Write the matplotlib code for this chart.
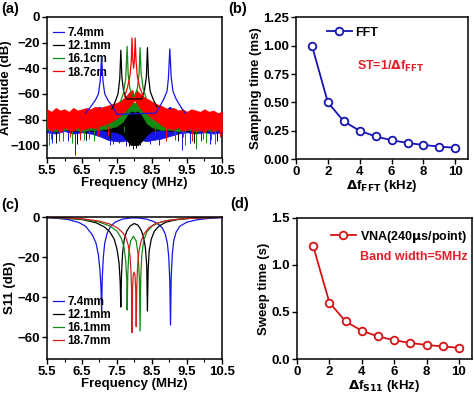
import numpy as np
import matplotlib
matplotlib.use('Agg')
import matplotlib.pyplot as plt

plt.rcParams['font.family'] = ['Liberation Sans', 'DejaVu Sans']
plt.rcParams['font.weight'] = 'bold'
plt.rcParams['axes.labelweight'] = 'bold'
plt.rcParams['mathtext.default'] = 'bf'

labels_a = ['7.4mm', '12.1mm', '16.1cm', '18.7cm']
labels_c = ['7.4mm', '12.1mm', '16.1mm', '18.7mm']
colors = ['#1515e6', '#000000', '#138a13', '#ff0000']

# ---- (a) FFT spectra: noise envelopes
band_f = [5.5, 5.75, 6.0, 6.25, 6.5, 6.75, 7.0, 7.25, 7.5, 7.65, 7.8, 7.9, 8.0,
          8.1, 8.2, 8.35, 8.5, 8.75, 9.0, 9.25, 9.5, 9.75, 10.0, 10.25, 10.5]
blue_up = [-75, -76, -75, -76, -75, -73, -70, -76, -78, -79, -80, -80, -80,
           -80, -80, -79, -78, -76, -70, -74, -76, -75, -76, -75, -76]
blue_lo = [-90, -91, -89, -91, -90, -91, -93, -96, -97, -97, -96, -98, -97,
           -97, -96, -97, -96, -95, -93, -91, -90, -91, -90, -91, -90]
black_up = [-75, -76, -75, -76, -75, -75, -75, -74, -70, -66, -71, -72, -72,
            -72, -71, -66, -69, -74, -75, -76, -75, -76, -75, -76, -75]
black_lo = [-88, -89, -88, -89, -88, -89, -88, -89, -90, -92, -97, -100, -100,
            -100, -97, -92, -89, -88, -89, -88, -89, -88, -89, -88, -89]
green_up = [-75, -75, -76, -75, -76, -75, -75, -74, -71, -67, -63, -66, -67,
            -66, -63, -68, -72, -74, -75, -75, -76, -75, -76, -75, -75]
green_lo = [-88, -89, -88, -88, -89, -88, -88, -87, -85, -82, -76, -73, -74,
            -73, -76, -83, -86, -88, -88, -89, -88, -89, -88, -89, -88]
bands_a = [(blue_up, blue_lo), (black_up, black_lo), (green_up, green_lo)]

red_f = [5.5, 5.625, 5.75, 5.875, 6.0, 6.125, 6.25, 6.375, 6.5, 6.625, 6.75, 6.875,
         7.0, 7.125, 7.25, 7.375, 7.5, 7.625, 7.75, 7.875, 7.94, 8.0, 8.06, 8.125,
         8.25, 8.375, 8.5, 8.625, 8.75, 8.875, 9.0, 9.125, 9.25, 9.375, 9.5, 9.625,
         9.75, 9.875, 10.0, 10.125, 10.25, 10.375, 10.5]
red_up = [-72, -74, -71, -73, -72, -74, -71, -73, -72, -71, -72, -70, -71, -70,
          -69, -68, -67, -65, -62, -58, -57, -62, -57, -59, -62, -64, -66, -68,
          -69, -71, -72, -71, -73, -72, -74, -72, -73, -74, -72, -74, -73, -75, -74]
red_lo = [-86, -89, -87, -90, -86, -88, -89, -86, -88, -87, -86, -87, -85, -84,
          -83, -81, -79, -76, -73, -69, -67, -65, -67, -70, -74, -76, -79, -81,
          -84, -86, -87, -88, -86, -89, -88, -87, -89, -88, -90, -87, -89, -88, -90]

# downward noise spikes (freq, dB), blue / black / green / red
spike_f = [[5.65, 6.1, 6.3, 6.6, 7.3, 7.4, 7.55, 7.75, 8.3, 8.45, 8.6, 8.7, 9.35, 9.6,
            9.9, 10.15],
           [5.75, 6.35, 6.6, 7.3, 7.85, 7.95, 8.05, 8.15, 8.25, 9.25, 9.7, 10.35],
           [5.55, 5.95, 6.2, 6.55, 6.85, 7.7, 9.45, 9.75, 10.05, 10.3],
           [5.6, 5.85, 6.15, 6.45, 6.7, 6.95, 7.25, 8.6, 8.9, 9.15, 9.4, 9.65, 9.95,
            10.2, 10.45]]
spike_db = [[-98, -97, -108, -96, -100, -99, -98, -101, -97, -99, -96, -100, -104, -98,
             -97, -99],
            [-98, -99, -96, -95, -101, -103, -102, -100, -96, -97, -98, -97],
            [-100, -97, -98, -96, -97, -90, -100, -103, -98, -99],
            [-95, -97, -94, -96, -95, -93, -92, -90, -97, -96, -94, -97, -95, -96, -94]]

# resonance peaks (freq, dB)
peak_f = [[6.6, 6.75, 6.88, 6.97, 7.02, 7.06, 7.1, 7.15, 7.24, 7.38, 7.5,
           8.6, 8.72, 8.84, 8.93, 8.97, 9.01, 9.05, 9.1, 9.19, 9.32, 9.45],
          [7.35, 7.45, 7.53, 7.58, 7.61, 7.64, 7.69, 7.77,
           8.2, 8.28, 8.34, 8.37, 8.4, 8.45, 8.53, 8.64],
          [7.6, 7.68, 7.75, 7.79, 7.82, 7.87, 7.95,
           8.0, 8.08, 8.13, 8.16, 8.19, 8.25, 8.33],
          [7.72, 7.8, 7.87, 7.91, 7.93, 7.95, 7.975, 8.0, 8.02, 8.045, 8.08, 8.15, 8.25]]
peak_db = [[-75, -70, -65, -60, -50, -31, -50, -60, -65, -70, -76,
            -75, -70, -64, -58, -48, -25, -47, -58, -64, -70, -75],
           [-72, -66, -60, -48, -26, -47, -58, -64,
            -64, -58, -47, -24, -46, -58, -64, -70],
           [-66, -60, -48, -23, -45, -56, -62,
            -62, -56, -45, -24, -44, -56, -63],
           [-62, -55, -46, -34, -16.5, -33, -40, -33, -16.5, -34, -46, -55, -62]]

# ---- (b) FFT sampling time
df_fft = [1, 2, 3, 4, 5, 6, 7, 8, 9, 10]
st_fft = [1.0, 0.5, 0.333, 0.25, 0.2, 0.167, 0.143, 0.125, 0.111, 0.1]

# ---- (c) S11 curves (freq, dB)
s11_f = [[5.5, 5.8, 6.1, 6.4, 6.6, 6.8, 6.9, 6.97, 7.01, 7.04, 7.06, 7.08, 7.11, 7.15,
          7.22, 7.32, 7.45, 7.65, 7.9, 8.1, 8.35, 8.55, 8.7, 8.8, 8.88, 8.94, 8.98,
          9.01, 9.03, 9.05, 9.08, 9.12, 9.19, 9.3, 9.5, 9.8, 10.1, 10.5],
         [5.5, 6.0, 6.5, 6.9, 7.15, 7.3, 7.42, 7.5, 7.56, 7.59, 7.61, 7.63, 7.66, 7.71,
          7.78, 7.87, 7.99, 8.1, 8.19, 8.26, 8.31, 8.35, 8.37, 8.39, 8.42, 8.48, 8.57,
          8.7, 8.9, 9.2, 9.6, 10.0, 10.5],
         [5.5, 6.0, 6.5, 7.0, 7.3, 7.5, 7.62, 7.7, 7.75, 7.78, 7.79, 7.81, 7.84, 7.89,
          7.97, 8.05, 8.1, 8.14, 8.16, 8.18, 8.21, 8.26, 8.35, 8.5, 8.7, 9.0, 9.5,
          10.0, 10.5],
         [5.5, 6.0, 6.5, 7.0, 7.3, 7.5, 7.65, 7.75, 7.82, 7.87, 7.9, 7.92, 7.93, 7.945,
          7.965, 7.99, 8.015, 8.035, 8.05, 8.065, 8.085, 8.12, 8.18, 8.27, 8.4, 8.6,
          8.9, 9.3, 9.8, 10.5]]
s11_db = [[-0.3, -0.6, -1.2, -2.6, -4.5, -9, -13, -19, -26, -34, -47, -30, -20, -13,
           -8, -4.5, -2.5, -1, -0.4, -0.4, -1, -2.2, -3.8, -5.5, -8.5, -13, -20,
           -32, -54, -30, -19, -12, -7.5, -4.5, -2.5, -1.3, -0.7, -0.3],
          [-0.2, -0.5, -1.2, -2.8, -5, -7.5, -11, -16, -23, -32, -45, -28, -18, -11,
           -7, -4.5, -3.2, -4, -6.5, -10, -15, -24, -47, -27, -17, -11, -7,
           -4.5, -2.5, -1.3, -0.6, -0.3, -0.1],
          [-0.2, -0.4, -1, -2.5, -4.5, -7, -10.5, -15, -22, -32, -46.5, -28, -17, -12,
           -9.6, -12, -18, -30, -57, -30, -19, -12, -7.5, -4.5, -2.8, -1.5, -0.6,
           -0.3, -0.1],
          [-0.1, -0.3, -0.8, -2, -3.5, -5.2, -7.5, -10, -14, -19, -27, -38, -57.8, -36,
           -29, -27.5, -29, -36, -54.8, -36, -26, -18, -12.5, -8.5, -5.5, -3.2,
           -1.8, -0.9, -0.4, -0.1]]

# ---- (d) VNA sweep time
df_s11 = [1, 2, 3, 4, 5, 6, 7, 8, 9, 10]
sweep_t = [1.2, 0.6, 0.4, 0.3, 0.24, 0.2, 0.17, 0.15, 0.133, 0.12]

fig = plt.figure(figsize=(4.74, 3.93), dpi=100)
ax_a = fig.add_axes([0.0992, 0.598, 0.369, 0.359])
ax_b = fig.add_axes([0.6245, 0.595, 0.363, 0.361])
ax_c = fig.add_axes([0.0992, 0.0865, 0.369, 0.361])
ax_d = fig.add_axes([0.6266, 0.0865, 0.369, 0.359])

fs = 9.5


def style(ax):
    for s in ax.spines.values():
        s.set_linewidth(1.1)
    ax.tick_params(direction='out', length=3.5, width=1.0, labelsize=fs, pad=1.5)
    ax.tick_params(which='minor', direction='out', length=2, width=0.8)
    for t in ax.get_xticklabels() + ax.get_yticklabels():
        t.set_fontweight('bold')


def bold_legend(leg):
    for t in leg.get_texts():
        t.set_fontweight('bold')


# (a)
for i in range(3):
    up, lo = bands_a[i]
    ax_a.fill_between(band_f, lo, up, color=colors[i], lw=0.5, zorder=1 + i)
ax_a.fill_between(red_f, red_lo, red_up, color=colors[3], lw=0.5, zorder=4)
for i in range(4):
    ax_a.vlines(spike_f[i], -85, spike_db[i], color=colors[i], lw=0.7, zorder=1 + i)
for i in range(4):
    ax_a.plot(peak_f[i], peak_db[i], color=colors[i], lw=0.9, zorder=6 + i, label=labels_a[i])
ax_a.set_xlim(5.5, 10.5)
ax_a.set_ylim(-110, 0)
ax_a.set_xticks(np.arange(5.5, 10.6, 1.0))
ax_a.set_xticks(np.arange(6.0, 10.5, 1.0), minor=True)
ax_a.set_yticks([0, -20, -40, -60, -80, -100])
ax_a.set_xlabel('Frequency (MHz)', fontsize=fs, labelpad=0)
ax_a.set_ylabel('Amplitude (dB)', fontsize=fs, labelpad=-1)
bold_legend(ax_a.legend(loc='upper left', frameon=False, fontsize=8.5, handlelength=0.9,
                        handletextpad=0.3, labelspacing=0.1, borderaxespad=0.1,
                        bbox_to_anchor=(0.0, 0.97)))
style(ax_a)

# (b)
ax_b.plot(df_fft, st_fft, color='#1414b4', lw=1.3, marker='o', ms=5.5, mfc='white',
          mec='#1414b4', mew=1.3, label='FFT')
ax_b.set_xlim(0, 10.8)
ax_b.set_ylim(0, 1.25)
ax_b.set_xticks([0, 2, 4, 6, 8, 10])
ax_b.set_yticks([0, 0.25, 0.5, 0.75, 1.0, 1.25])
ax_b.set_yticklabels(['0.00', '0.25', '0.50', '0.75', '1.00', '1.25'])
ax_b.set_xlabel(r'$\Delta$f$_{\mathbf{FFT}}$ (kHz)', fontsize=fs, labelpad=0)
ax_b.set_ylabel('Sampling time (ms)', fontsize=fs, labelpad=1)
bold_legend(ax_b.legend(loc='upper left', frameon=False, fontsize=9, handlelength=2.0,
                        handletextpad=0.3, borderaxespad=0.0,
                        bbox_to_anchor=(0.15, 0.97)))
ax_b.text(0.355, 0.65, r'ST=1/$\Delta$f$_{\mathbf{FFT}}$', transform=ax_b.transAxes,
          color='#e0202a', fontsize=9, fontweight='bold', va='center')
style(ax_b)

# (c)
for i in range(4):
    ax_c.plot(s11_f[i], s11_db[i], color=colors[i] if i != 3 else '#d42020', lw=0.9,
              label=labels_c[i])
ax_c.set_xlim(5.5, 10.5)
ax_c.set_ylim(-71, 0)
ax_c.set_xticks(np.arange(5.5, 10.6, 1.0))
ax_c.set_xticks(np.arange(6.0, 10.5, 1.0), minor=True)
ax_c.set_yticks([0, -20, -40, -60])
ax_c.set_xlabel('Frequency (MHz)', fontsize=fs, labelpad=0)
ax_c.set_ylabel('S11 (dB)', fontsize=fs, labelpad=1)
bold_legend(ax_c.legend(loc='lower left', frameon=False, fontsize=8.5, handlelength=0.9,
                        handletextpad=0.3, labelspacing=0.1, borderaxespad=0.1,
                        bbox_to_anchor=(0.0, 0.04)))
style(ax_c)

# (d)
ax_d.plot(df_s11, sweep_t, color='#d41414', lw=1.3, marker='o', ms=5.5, mfc='white',
          mec='#d41414', mew=1.3, label=r'VNA(240$\mathbf{\mu}$s/point)')
ax_d.set_xlim(0, 10.8)
ax_d.set_ylim(0, 1.5)
ax_d.set_xticks([0, 2, 4, 6, 8, 10])
ax_d.set_yticks([0, 0.5, 1.0, 1.5])
ax_d.set_yticklabels(['0.0', '0.5', '1.0', '1.5'])
ax_d.set_xlabel(r'$\Delta$f$_{\mathbf{S11}}$ (kHz)', fontsize=fs, labelpad=0)
ax_d.set_ylabel('Sweep time (s)', fontsize=fs, labelpad=1)
bold_legend(ax_d.legend(loc='upper right', frameon=False, fontsize=9, handlelength=2.0,
                        handletextpad=0.3, borderaxespad=0.0,
                        bbox_to_anchor=(1.0, 0.96)))
ax_d.text(0.36, 0.72, 'Band width=5MHz', transform=ax_d.transAxes,
          color='#e0202a', fontsize=9, fontweight='bold', va='center')
style(ax_d)

for lab, x, y in [('(a)', 0.002, 0.995), ('(b)', 0.482, 0.995),
                  ('(c)', 0.002, 0.495), ('(d)', 0.486, 0.498)]:
    fig.text(x, y, lab, fontsize=10.5, fontweight='bold', va='top', ha='left')

fig.savefig('out.png', dpi=100)
